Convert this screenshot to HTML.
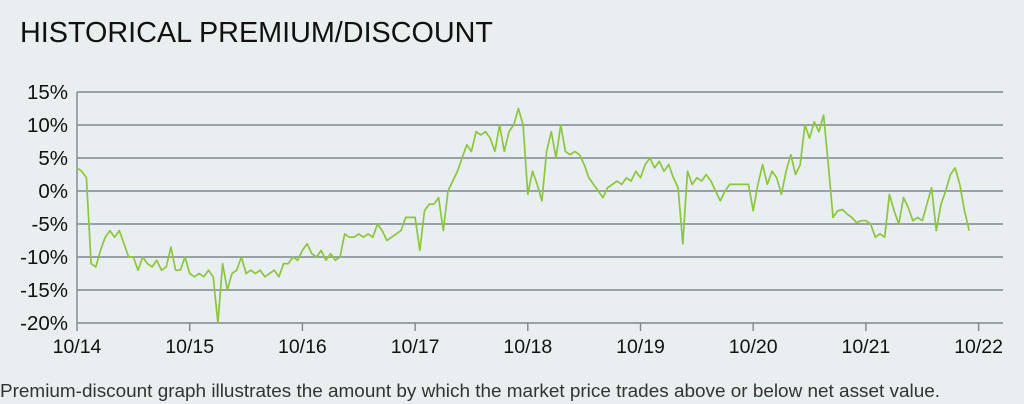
<!DOCTYPE html>
<html><head><meta charset="utf-8"><style>
body{margin:0;background:#e9eef1;width:1024px;height:404px;overflow:hidden;font-family:"Liberation Sans",sans-serif;}
svg{position:absolute;left:0;top:0}
</style></head><body>
<svg width="1024" height="404">
<rect width="1024" height="404" fill="#e9eef1"/>
<text x="20" y="42" font-size="28.5" fill="#111" textLength="473" lengthAdjust="spacingAndGlyphs">HISTORICAL PREMIUM/DISCOUNT</text>
<g id="grid"></g><g id="yt"></g><g id="xt"></g><g id="series"></g>
<text x="0" y="397" font-size="18.5" fill="#333" textLength="940" lengthAdjust="spacingAndGlyphs">Premium-discount graph illustrates the amount by which the market price trades above or below net asset value.</text>
</svg>
<script>
const yTicks=[15,10,5,0,-5,-10,-15,-20];
const xLabels=["10/14","10/15","10/16","10/17","10/18","10/19","10/20","10/21","10/22"];
const stepYears=1/24;
const values=[3.5,3,2,-11,-11.5,-9,-7,-6,-7,-6,-8,-10,-10,-12,-10,-11,-11.5,-10.5,-12,-11.5,-8.5,-12,-12,-10,
-12.5,-13,-12.5,-13,-12,-13,-20,-11,-15,-12.5,-12,-10,-12.5,-12,-12.5,-12,-13,-12.5,-12,-13,-11,-11,-10,-10.5,
-9,-8,-9.5,-10,-9,-10.5,-9.5,-10.5,-10,-6.5,-7,-7,-6.5,-7,-6.5,-7,-5,-6,-7.5,-7,-6.5,-6,-4,-4,
-4,-9,-3,-2,-2,-1,-6,0,1.5,3,5,7,6,9,8.5,9,8,6,10,6,9,10,12.5,10,
-0.5,3,1,-1.5,6,9,5,10,6,5.5,6,5.5,4,2,1,0,-1,0.5,1,1.5,1,2,1.5,3,
2,4,5,3.5,4.5,3,4,2,0.5,-8,3,1,2,1.5,2.5,1.5,0,-1.5,0,1,1,1,1,1,
-3,1,4,1,3,2,-0.5,3,5.5,2.5,4,10,8,10.5,9,11.5,4,-4,-3,-2.8,-3.5,-4,-4.8,-4.5,
-4.5,-5,-7,-6.5,-7,-0.5,-3,-5,-1,-2.5,-4.5,-4,-4.5,-2,0.5,-6,-2,0,2.5,3.5,1,-3,-6];
const X0=77,X1=1003,PXY=112.7,Y0=191,PXV=6.6;
const xs=t=>X0+t*PXY, ys=v=>Y0-v*PXV;
const NS="http://www.w3.org/2000/svg";
function mk(tag,attrs,parent){const e=document.createElementNS(NS,tag);for(const k in attrs)e.setAttribute(k,attrs[k]);parent.appendChild(e);return e;}
const grid=document.getElementById('grid'),yt=document.getElementById('yt'),xt=document.getElementById('xt'),ser=document.getElementById('series');
yTicks.forEach(v=>{
 const l=mk('line',{x1:X0,x2:X1,y1:ys(v),y2:ys(v),stroke:'#7f868d','stroke-width':1.4},grid);
 
 
 const t=mk('text',{x:68,y:ys(v)+7,'text-anchor':'end','font-size':20.5,fill:'#111'},yt);
 t.textContent=v+'%';
 
 
});
const ax=mk('line',{x1:X0,x2:X0,y1:ys(15),y2:ys(-20),stroke:'#7f868d','stroke-width':1.4},grid);


xLabels.forEach((s,i)=>{
 const tk=mk('line',{x1:xs(i),x2:xs(i),y1:ys(-20),y2:ys(-20)+8,stroke:'#7f868d','stroke-width':1.4},xt);
 
 
 const t=mk('text',{x:xs(i),y:353,'text-anchor':'middle','font-size':19.5,fill:'#111'},xt);
 t.textContent=s;
 
 
});
const d=values.map((v,i)=>(i?'L':'M')+xs(i*stepYears).toFixed(1)+' '+ys(v).toFixed(1)).join(' ');
const p=mk('path',{d:d,fill:'none',stroke:'#8cc63f','stroke-width':1.7,'stroke-linejoin':'round'},ser);


</script>
</body></html>
